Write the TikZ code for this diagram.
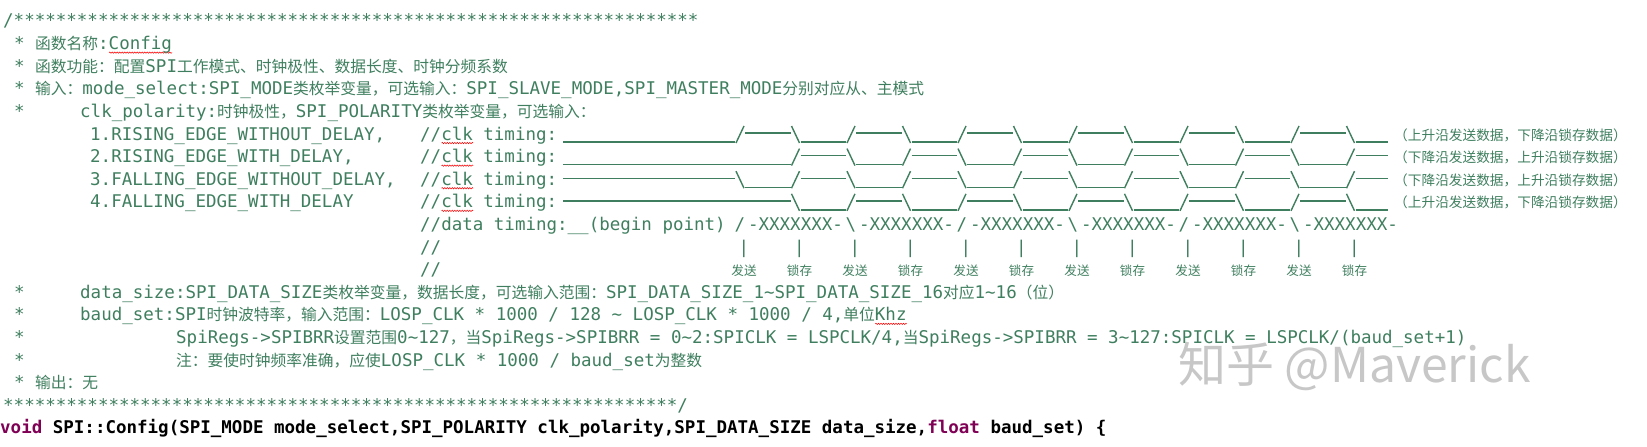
\documentclass[tikz,border=0pt]{standalone}
\usepackage{fontspec}
\usetikzlibrary{decorations.pathmorphing}
\setmonofont{DejaVu Sans Mono}
\newfontfamily\zhfont[Scale=0.9]{Noto Sans CJK SC}
\newfontfamily\wmfont{Noto Sans CJK SC}
\definecolor{cm}{HTML}{3F7F5F}
\definecolor{kw}{HTML}{7F0055}
\newcommand\zh{\zhfont}
\newsavebox\rwbox
\newcommand\rw[1]{\sbox\rwbox{#1}\rlap{\raisebox{-4pt}{\tikz[x=1pt,y=1pt]\draw[red,line width=0.5pt,decorate,decoration={snake,amplitude=0.7pt,segment length=2.5pt}] (0,0)--(\the\wd\rwbox,0);}}\usebox\rwbox}
\tikzset{
  txt/.style={anchor=base west, inner sep=0pt, text=cm, font=\ttfamily\fontsize{17.5}{20}\selectfont},
  tag/.style={anchor=base, inner sep=0pt, text=cm, font=\zhfont\fontsize{14}{16}\selectfont},
  note/.style={anchor=base west, inner sep=0pt, text=cm, font=\zhfont\fontsize{15.2}{17}\selectfont},
  wv/.style={draw=cm, line width=1.4pt}
}
\newcommand\wave[5]{% name, y center, start level, first edge, number of edges
  \pgfmathsetmacro\hy{#2-1}\pgfmathsetmacro\ly{#2+8}
  \pgfmathsetmacro\sy{#3==1 ? \hy : \ly}
  \draw[wv] (563,\sy) -- (#4-5,\sy);
  \foreach \k in {1,...,#5}{
    \pgfmathsetmacro\ex{#4+55.5*(\k-1)}
    \pgfmathtruncatemacro\lv{mod(#3+\k-1,2)}
    \pgfmathsetmacro\cy{\lv==1 ? \hy : \ly}
    \ifnum\k>1 \draw[wv] (\ex-50.5,\cy) -- (\ex-5,\cy);\fi
    \ifnum\lv=0 \draw[wv] (\ex-4,\ly+1) -- (\ex+4,\hy-7);
    \else \draw[wv] (\ex-4,\hy-7) -- (\ex+4,\ly+1);\fi
  }
  \pgfmathsetmacro\lx{#4+55.5*(#5-1)}
  \pgfmathtruncatemacro\lv{mod(#3+#5,2)}
  \pgfmathsetmacro\cy{\lv==1 ? \hy : \ly}
  \draw[wv] (\lx+5,\cy) -- (1388,\cy);
}
\begin{document}
\begin{tikzpicture}[x=1pt,y=-1pt]
\useasboundingbox[fill=white] (0,0) rectangle (1647,447);
% watermark
\node[anchor=west, inner sep=0pt, text=black!22, font=\wmfont\fontsize{48}{52}\selectfont] (wm) at (1178,366) {知乎 @Maverick};
% header
\node[txt] (l0) at (3,27) {/*****************************************************************};
\foreach \i/\y in {1/43.6,2/66.2,3/88.8,4/111.4,12/292.2,13/314.8,14/337.4,15/360,16/382.6}
  \node[txt] (s\i) at (14,\y+6) {*};
\node[txt] (l1) at (35,49.6) {{\zh 函数名称}:\rw{Config}};
\node[txt] (l2) at (35,72.2) {{\zh 函数功能：配置}SPI{\zh 工作模式、时钟极性、数据长度、时钟分频系数}};
\node[txt] (l3) at (35,94.8) {{\zh 输入：}mode\_select:SPI\_MODE{\zh 类枚举变量，可选输入：}SPI\_SLAVE\_MODE,SPI\_MASTER\_MODE{\zh 分别对应从、主模式}};
\node[txt] (l4) at (80,117.4) {clk\_polarity:{\zh 时钟极性，}SPI\_POLARITY{\zh 类枚举变量，可选输入：}};
% modes
\node[txt] (m1) at (90,140) {1.RISING\_EDGE\_WITHOUT\_DELAY,};
\node[txt] (m2) at (90,162.6) {2.RISING\_EDGE\_WITH\_DELAY,};
\node[txt] (m3) at (90,185.2) {3.FALLING\_EDGE\_WITHOUT\_DELAY,};
\node[txt] (m4) at (90,207.8) {4.FALLING\_EDGE\_WITH\_DELAY};
\foreach \i/\y in {1/140,2/162.6,3/185.2,4/207.8}
  \node[txt] (c\i) at (420,\y) {//\rw{clk} timing:};
% waveforms
\wave{w1}{134}{0}{740}{12}
\wave{w2}{156.6}{0}{795.5}{11}
\wave{w3}{179.2}{1}{740}{12}
\wave{w4}{201.8}{1}{795.5}{11}
\node[note] (n1) at (1394,140) {（上升沿发送数据，下降沿锁存数据）};
\node[note] (n2) at (1394,162.6) {（下降沿发送数据，上升沿锁存数据）};
\node[note] (n3) at (1394,185.2) {（下降沿发送数据，上升沿锁存数据）};
\node[note] (n4) at (1394,207.8) {（上升沿发送数据，下降沿锁存数据）};
% data timing
\node[txt] (dt) at (420,230.4) {//data timing:\_\_(begin point)};
\foreach \k in {0,...,5}{
  \pgfmathsetmacro\ex{740+111*\k}
  \ifodd\k \node[txt, anchor=base] (de\k) at (\ex,230.4) {\textbackslash};
  \else \node[txt, anchor=base] (de\k) at (\ex,230.4) {/};\fi
  \node[txt, anchor=base] (dx\k) at (\ex+55.5,230.4) {-XXXXXXX-};
}
\node[txt] (sl1) at (420,253) {//};
\node[txt] (sl2) at (420,275.6) {//};
\foreach \k in {0,...,11}{
  \pgfmathsetmacro\ex{744+55.5*\k}
  \node[txt, anchor=base] (tk\k) at (\ex,253) {|};
  \ifodd\k \node[tag] (lb\k) at (\ex,275) {锁存};
  \else \node[tag] (lb\k) at (\ex,275) {发送};\fi
}
% parameters
\node[txt] (l12) at (80,298.2) {data\_size:SPI\_DATA\_SIZE{\zh 类枚举变量，数据长度，可选输入范围：}SPI\_DATA\_SIZE\_1\textasciitilde SPI\_DATA\_SIZE\_16{\zh 对应}1\textasciitilde16{\zh （位）}};
\node[txt] (l13) at (80,320.8) {baud\_set:SPI{\zh 时钟波特率，输入范围：}LOSP\_CLK * 1000 / 128 \textasciitilde{} LOSP\_CLK * 1000 / 4,{\zh 单位}\rw{Khz}};
\node[txt] (l14) at (176,343.4) {SpiRegs->SPIBRR{\zh 设置范围}0\textasciitilde127{\zh ，当}SpiRegs->SPIBRR = 0\textasciitilde2:SPICLK = LSPCLK/4,{\zh 当}SpiRegs->SPIBRR = 3\textasciitilde127:SPICLK = LSPCLK/(baud\_set+1)};
\node[txt] (l15) at (176,366) {{\zh 注：要使时钟频率准确，应使}LOSP\_CLK * 1000 / baud\_set{\zh 为整数}};
\node[txt] (l16) at (35,388.6) {{\zh 输出：无}};
\node[txt] (l17) at (3,411.2) { ****************************************************************/};
\node[txt, text=black, font=\ttfamily\bfseries\fontsize{17.5}{20}\selectfont] (l18) at (0,433.8) {{\color{kw}void} SPI::Config(SPI\_MODE mode\_select,SPI\_POLARITY clk\_polarity,SPI\_DATA\_SIZE data\_size,{\color{kw}float} baud\_set) \{};
\end{tikzpicture}
\end{document}
